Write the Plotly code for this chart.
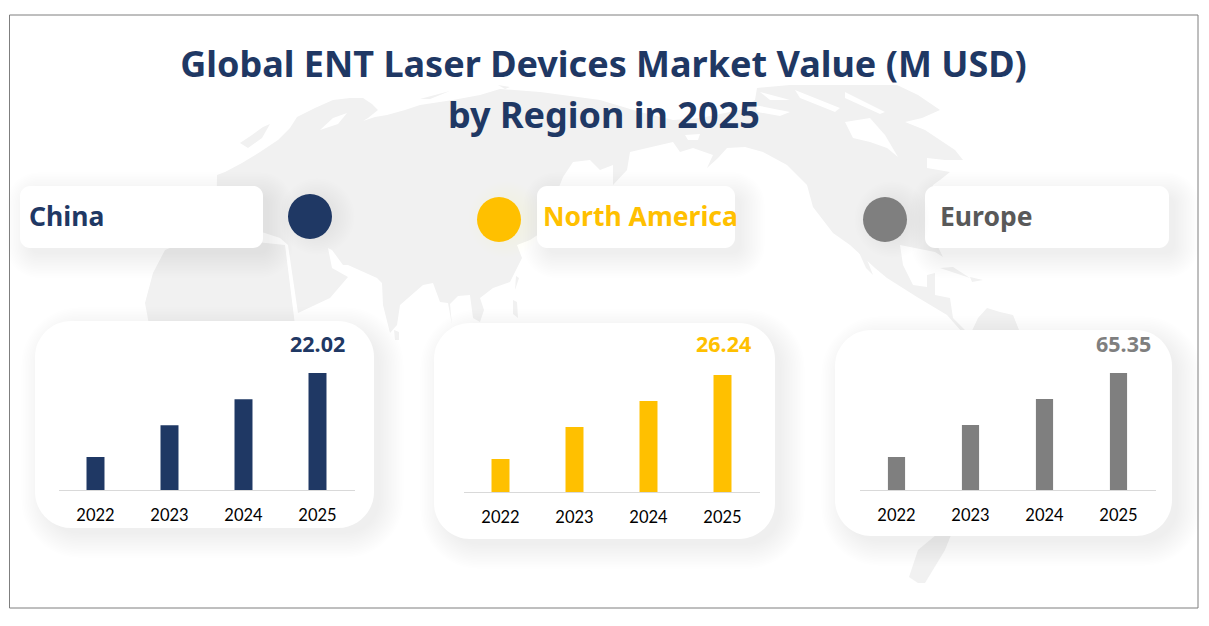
import plotly.graph_objects as go

# ---------- data ----------
years = ["2022", "2023", "2024", "2025"]
china = [6.2, 12.2, 17.1, 22.02]
north_america = [7.4, 14.6, 20.4, 26.24]
europe = [18.4, 36.3, 50.8, 65.35]
regions = ["China", "North America", "Europe"]
title_lines = ["Global ENT Laser Devices Market Value (M USD)", "by Region in 2025"]

NAVY, AMBER, GREY = "#1F3864", "#FFC000", "#7F7F7F"
W, H = 1209, 626
BODY = "Noto Sans"
TICK = "Lato"


def X(p):
    return p / W


def Y(p):
    return 1 - p / H


def rr_path(x0, y0, x1, y1, r):
    k = r * 0.45
    pts = [
        f"M{X(x0 + r)},{Y(y0)}", f"L{X(x1 - r)},{Y(y0)}",
        f"C{X(x1 - k)},{Y(y0)} {X(x1)},{Y(y0 + k)} {X(x1)},{Y(y0 + r)}",
        f"L{X(x1)},{Y(y1 - r)}",
        f"C{X(x1)},{Y(y1 - k)} {X(x1 - k)},{Y(y1)} {X(x1 - r)},{Y(y1)}",
        f"L{X(x0 + r)},{Y(y1)}",
        f"C{X(x0 + k)},{Y(y1)} {X(x0)},{Y(y1 - k)} {X(x0)},{Y(y1 - r)}",
        f"L{X(x0)},{Y(y0 + r)}",
        f"C{X(x0)},{Y(y0 + k)} {X(x0 + k)},{Y(y0)} {X(x0 + r)},{Y(y0)}", "Z",
    ]
    return " ".join(pts)


def poly_path(pts):
    return "M" + " L".join(f"{X(a)},{Y(b)}" for a, b in pts) + " Z"


shapes = []


def add_path(path, fill):
    shapes.append(dict(type="path", path=path, xref="paper", yref="paper",
                       fillcolor=fill, line=dict(width=0), layer="below"))


# ---------- faint world map backdrop ----------
MAP = "#F1F1F1"
land = [
    # Eurasia + North America across the top of the map
    [(217, 175), (225, 172), (242, 163), (260, 152), (278, 140), (290, 128), (297, 117), (315, 108),
     (333, 100), (350, 98), (363, 98), (372, 104), (378, 110), (368, 118), (363, 121), (375, 117),
     (387, 115), (405, 110), (420, 105), (453, 100), (480, 95), (500, 89), (540, 92), (600, 100),
     (640, 112), (673, 120), (700, 118), (740, 110), (755, 100), (757, 88), (790, 85), (850, 85),
     (897, 85), (918, 95), (940, 110), (922, 118), (905, 122), (925, 130), (943, 142), (955, 150),
     (963, 160), (945, 160), (927, 158), (927, 168), (950, 172), (940, 180), (933, 185), (925, 215),
     (937, 245), (943, 257), (935, 252), (900, 245), (903, 265), (913, 285), (927, 287), (927, 275),
     (935, 273), (935, 295), (950, 298), (953, 318), (967, 332), (962, 332), (947, 315), (917, 297),
     (887, 278), (875, 268), (850, 245), (833, 233), (813, 207), (807, 185), (787, 165), (763, 152),
     (745, 147), (727, 148), (718, 158), (707, 168), (713, 155), (693, 148), (680, 152), (673, 142),
     (660, 145), (630, 152), (627, 170), (613, 185), (613, 165), (600, 170), (590, 160), (573, 162),
     (563, 177), (552, 205), (548, 228), (530, 240), (517, 245), (522, 258), (510, 282), (493, 288),
     (480, 298), (484, 310), (480, 322), (473, 318), (470, 295), (458, 296), (450, 304), (452, 325),
     (448, 303), (440, 302), (433, 283), (423, 285), (400, 305), (397, 325), (390, 333), (383, 305),
     (382, 283), (377, 278), (348, 265), (343, 265), (332, 250), (328, 248), (332, 268), (348, 277),
     (330, 298), (298, 313), (288, 245), (280, 238), (240, 225), (216, 230)],
    # Africa (runs under the card)
    [(165, 250), (200, 236), (285, 245), (295, 325), (150, 330), (145, 303), (153, 273)],
    # British Isles, Sri Lanka, Taiwan, Philippines, Japan, Arctic Russia
    [(240, 143), (252, 135), (263, 127), (270, 124), (262, 138), (248, 148)],
    [(394, 330), (399, 332), (399, 340), (395, 340)],
    [(516, 276), (519, 278), (515, 290)],
    [(513, 300), (517, 302), (518, 318), (513, 314)],
    [(540, 222), (556, 210), (553, 240), (545, 245)],
    [(420, 99), (450, 91), (430, 99)],
    [(498, 85), (510, 87), (505, 89)],
    # Baja California
    [(857, 248), (864, 252), (873, 275), (866, 268)],
    # Cuba, Hispaniola
    [(940, 268), (953, 267), (970, 278), (955, 273)],
    [(970, 277), (983, 280), (972, 282)],
    # South America, top and tail around the card
    [(970, 335), (978, 318), (987, 308), (1000, 312), (1013, 315), (1021, 335)],
    [(942, 530), (953, 530), (945, 550), (925, 583), (918, 583), (909, 577), (918, 550)],
]
for poly in land:
    add_path(poly_path(poly), MAP)
# white cut-outs: Hudson Bay, White Sea, Baltic, Arctic channels
cuts = [
    [(845, 122), (870, 118), (885, 135), (898, 157), (887, 148), (870, 142), (853, 138)],
    [(320, 130), (333, 118), (347, 113), (338, 124)],
    [(755, 105), (790, 112), (780, 116), (757, 112)],
    [(795, 90), (840, 108), (835, 112), (800, 98)],
    [(845, 92), (885, 112), (880, 114), (845, 98)],
    [(760, 92), (790, 100), (770, 100)],
    [(685, 135), (700, 134), (698, 140), (688, 140)],
]
for poly in cuts:
    add_path(poly_path(poly), "#FFFFFF")


def shadow(x0, y0, x1, y1, r, dx=8, dy=8, spread=22, n=16, alpha=0.0045, rgb="0,0,0"):
    for i in range(n):
        e = spread - i * (spread + 2) / (n - 1)
        add_path(rr_path(x0 + dx - e, y0 + dy - e, x1 + dx + e, y1 + dy + e, max(r + e, 1)),
                 f"rgba({rgb},{alpha})")


# ---------- cards ----------
cards = [(35, 321, 374, 528), (434, 323, 775, 539), (835, 330, 1172, 536)]
for c in cards:
    shadow(*c, 36)
    add_path(rr_path(*c, 36), "#FFFFFF")

# ---------- pills ----------
pills = [(20, 186, 263, 248), (537, 186, 735, 248), (925, 186, 1169, 248)]
for p in pills:
    shadow(*p, 10)
    add_path(rr_path(*p, 10), "#FFFFFF")

# ---------- dots ----------
dots = [(310, 216.5, NAVY, "0,0,0"), (499, 219.5, AMBER, "255,192,0"), (885, 219.5, GREY, "0,0,0")]
for cx, cy, col, glow in dots:
    shadow(cx - 22, cy - 22.5, cx + 22, cy + 22.5, 22, dx=7, dy=0, spread=16, n=12, alpha=0.0055, rgb=glow)
    shapes.append(dict(type="circle", xref="paper", yref="paper", x0=X(cx - 22), x1=X(cx + 22),
                       y0=Y(cy + 22.5), y1=Y(cy - 22.5), fillcolor=col, line=dict(width=0), layer="below"))

# ---------- frame ----------
shapes.append(dict(type="rect", xref="paper", yref="paper", x0=X(9.5), x1=X(1198), y0=Y(608), y1=Y(15),
                   line=dict(color="#7F7F7F", width=1), fillcolor="rgba(0,0,0,0)", layer="below"))

fig = go.Figure()

# name, values, colour, axis left, right, baseline, bar-top pixel, index, bar width (category units)
panels = [
    (regions[0], china, NAVY, 58.5, 354.5, 490, 373, 1, 0.243),
    (regions[1], north_america, AMBER, 463.5, 759.5, 492, 375, 2, 0.243),
    (regions[2], europe, GREY, 859.5, 1155.5, 490, 373, 3, 0.232),
]
layout_axes = {}
annotations = []
for name, vals, col, left, right, base, top, i, bw in panels:
    suffix = "" if i == 1 else str(i)
    fig.add_trace(go.Bar(x=years, y=vals, name=name, width=bw, marker=dict(color=col, line=dict(width=0)),
                         xaxis=f"x{suffix}", yaxis=f"y{suffix}", showlegend=False))
    dom_top = base - 150
    layout_axes[f"xaxis{suffix}"] = dict(
        domain=[X(left), X(right)], anchor=f"y{suffix}", type="category", showgrid=False,
        showline=True, linecolor="#D9D9D9", linewidth=1, ticks="", ticklabelstandoff=10,
        tickfont=dict(family=TICK, size=16.5, color="#000000"), zeroline=False)
    layout_axes[f"yaxis{suffix}"] = dict(
        domain=[Y(base), Y(dom_top)], anchor=f"x{suffix}", range=[0, vals[-1] * 150 / (base - top)],
        visible=False)

# value labels
for p, lx, lc in zip(panels, [317.5, 723.5, 1123.5], [NAVY, AMBER, GREY]):
    annotations.append(dict(text=f"<b>{p[1][-1]:.2f}</b>", x=X(lx), y=Y(343), xref="paper", yref="paper",
                            showarrow=False, xanchor="center", yanchor="middle",
                            font=dict(family=BODY, size=21.5, color=lc)))

# pill labels
for text, lx, col in zip(regions, [27, 540.5, 938], [NAVY, AMBER, "#595959"]):
    annotations.append(dict(text=f"<b>{text}</b>", x=X(lx), y=Y(216), xref="paper", yref="paper",
                            showarrow=False, xanchor="left", yanchor="middle",
                            font=dict(family=BODY, size=26.5, color=col)))

# second title line
annotations.append(dict(text=f"<b>{title_lines[1]}</b>", x=X(603.5), y=Y(114.5), xref="paper", yref="paper",
                        showarrow=False, xanchor="center", yanchor="middle",
                        font=dict(family=BODY, size=36, color=NAVY)))

fig.update_layout(
    width=W, height=H, margin=dict(l=0, r=0, t=0, b=0), autosize=False,
    paper_bgcolor="#FFFFFF", plot_bgcolor="rgba(0,0,0,0)",
    bargap=0.757, showlegend=False, shapes=shapes, annotations=annotations,
    title=dict(text=f"<b>{title_lines[0]}</b>", x=603.5 / W, xanchor="center", xref="paper",
               y=Y(64), yanchor="middle", yref="container",
               font=dict(family=BODY, size=36, color=NAVY)),
    **layout_axes,
)

fig.write_html("out.html", post_script="document.body.style.margin='0';",
               config={"displayModeBar": False})
